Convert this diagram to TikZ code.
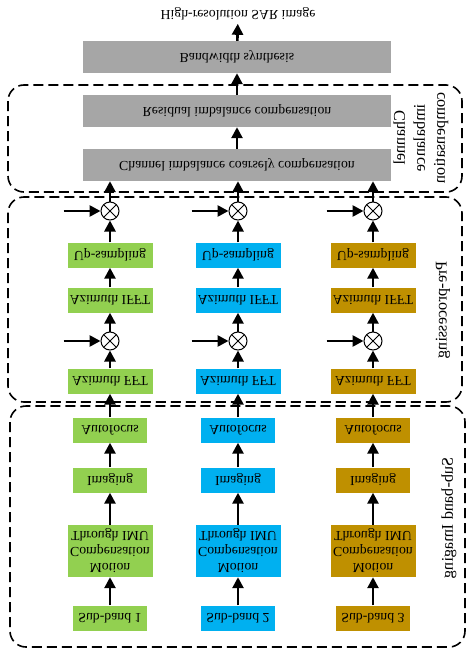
\documentclass[tikz,border=0pt]{standalone}
\usepackage{fontspec}
\setmainfont{Liberation Serif}
\usepackage{tikz}
\usetikzlibrary{arrows.meta}

\definecolor{bandgreen}{HTML}{92D050}
\definecolor{bandblue}{HTML}{00B0F0}
\definecolor{bandgold}{HTML}{BF9000}
\definecolor{stepgray}{HTML}{A6A6A6}

\begin{document}
\begin{tikzpicture}[x=1pt, y=1pt, yscale=-1,
  every node/.append style={transform shape},
  txt/.style = {font=\fontsize{13.8}{16}\selectfont},
  blk/.style = {txt, inner sep=2pt, minimum height=25pt, align=center},
  narrow/.style = {blk, minimum width=74pt},
  wide/.style = {blk, minimum width=85pt},
  stage/.style = {blk, fill=stepgray, minimum width=308pt, minimum height=32pt},
  mult/.style = {draw, circle, line width=1pt, minimum size=18pt, inner sep=0pt,
    path picture={\draw[line width=1pt] (path picture bounding box.north west) -- (path picture bounding box.south east)
      (path picture bounding box.north east) -- (path picture bounding box.south west);}},
  side/.style = {font=\fontsize{16.4}{20}\selectfont, rotate=90, align=center},
  group/.style = {dash pattern=on 10pt off 5pt, line width=1.6pt, rounded corners=16pt},
  arr/.style = {line width=2.6pt, -{Triangle[length=11pt, width=11pt]}}]
\useasboundingbox (0,0) rectangle (474,653);

% sub-band imaging
\node[narrow, fill=bandgreen] (s1) at (110,618) {Sub-band 1};
\node[narrow, fill=bandblue] (s2) at (238,618) {Sub-band 2};
\node[narrow, fill=bandgold] (s3) at (373,618) {Sub-band 3};
\node[wide, fill=bandgreen, minimum height=52pt] (m1) at (110,551) {Motion\\Compensation\\Through IMU};
\node[wide, fill=bandblue, minimum height=52pt] (m2) at (238,551) {Motion\\Compensation\\Through IMU};
\node[wide, fill=bandgold, minimum height=52pt] (m3) at (373,551) {Motion\\Compensation\\Through IMU};
\node[narrow, fill=bandgreen] (i1) at (110,480) {Imaging};
\node[narrow, fill=bandblue] (i2) at (238,480) {Imaging};
\node[narrow, fill=bandgold] (i3) at (373,480) {Imaging};
\node[narrow, fill=bandgreen] (a1) at (110,430) {Autofocus};
\node[narrow, fill=bandblue] (a2) at (238,430) {Autofocus};
\node[narrow, fill=bandgold] (a3) at (373,430) {Autofocus};

% pre-processing
\node[wide, fill=bandgreen] (f1) at (110,381) {Azimuth FFT};
\node[wide, fill=bandblue] (f2) at (238,381) {Azimuth FFT};
\node[wide, fill=bandgold] (f3) at (373,381) {Azimuth FFT};
\node[mult] (p1) at (110,341) {};
\node[mult] (p2) at (238,341) {};
\node[mult] (p3) at (373,341) {};
\node[wide, fill=bandgreen] (v1) at (110,300) {Azimuth IFFT};
\node[wide, fill=bandblue] (v2) at (238,300) {Azimuth IFFT};
\node[wide, fill=bandgold] (v3) at (373,300) {Azimuth IFFT};
\node[wide, fill=bandgreen] (u1) at (110,255) {Up-sampling};
\node[wide, fill=bandblue] (u2) at (238,255) {Up-sampling};
\node[wide, fill=bandgold] (u3) at (373,255) {Up-sampling};
\node[mult] (q1) at (110,211) {};
\node[mult] (q2) at (238,211) {};
\node[mult] (q3) at (373,211) {};

% channel imbalance compensation
\node[stage] (cc) at (237,165) {Channel imbalance coarsely compensation};
\node[stage] (rc) at (237,111) {Residual imbalance compensation};
\node[stage] (bw) at (237,57) {Bandwidth synthesis};
\node[txt] (out) at (238,14) {High-resolution SAR image};

\foreach \c in {1,2,3} {
  \coordinate (pin\c) at ([xshift=-37pt]p\c.west);
  \coordinate (qin\c) at ([xshift=-37pt]q\c.west);
  \draw[arr] (s\c) -- (m\c);
  \draw[arr] (m\c) -- (i\c);
  \draw[arr] (i\c) -- (a\c);
  \draw[arr] (a\c) -- (f\c);
  \draw[arr] (f\c) -- (p\c);
  \draw[arr] (p\c) -- (v\c);
  \draw[arr] (v\c) -- (u\c);
  \draw[arr] (u\c) -- (q\c);
  \draw[arr] (q\c) -- (q\c |- cc.north);
  \draw[arr] (pin\c) -- (p\c);
  \draw[arr] (qin\c) -- (q\c);
}
\draw[arr] (cc) -- (rc);
\draw[arr] (rc) -- (bw);
\draw[arr] (bw) -- (out);

% dashed groups
\draw[group] (8,85) rectangle (462,192);
\draw[group] (8,197) rectangle (462,402);
\draw[group] (10,406) rectangle (465,647);
\node[side] (lc) at (421,138) {Channel\\imbalance\\compensation};
\node[side] (lp) at (443,310) {Pre-processing};
\node[side] (ls) at (449,518) {Sub-band Imaging};
\end{tikzpicture}
\end{document}
